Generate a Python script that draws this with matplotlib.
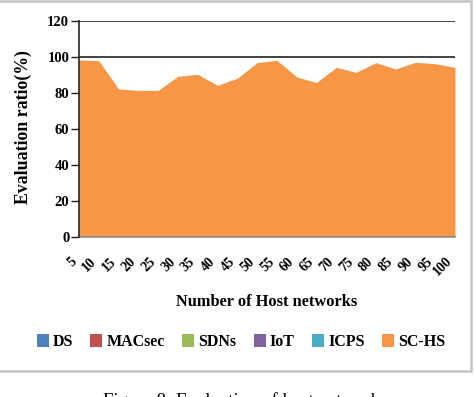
import matplotlib
matplotlib.use("Agg")
import matplotlib.pyplot as plt
from matplotlib.patches import Patch, Rectangle
import matplotlib.transforms as mtransforms

# ---- data ----
hosts = [5, 10, 15, 20, 25, 30, 35, 40, 45, 50, 55, 60, 65, 70, 75, 80, 85, 90, 95, 100]
sc_hs = [98.2, 97.8, 82.1, 81.3, 81.3, 89.1, 90.2, 84.1, 88.0, 96.7,
         98.0, 88.8, 85.6, 94.1, 91.3, 96.7, 93.2, 96.9, 96.1, 94.1]
series_names = ["DS", "MACsec", "SDNs", "IoT", "ICPS", "SC-HS"]
series_colors = ["#4F81BD", "#C0504D", "#9BBB59", "#8064A2", "#4BACC6", "#F79646"]
y_ticks = [0, 20, 40, 60, 80, 100, 120]
x_label = "Number of Host networks"
y_label = "Evaluation ratio(%)"
caption = "Figure 8: Evaluation of host networks"

W, H = 474, 397
fig = plt.figure(figsize=(W / 100, H / 100), dpi=100)
serif = "Liberation Serif"

# axes position in pixels
left, right = 79, 455
top, bottom = 20.7, 236.7
ax = fig.add_axes([left / W, 1 - bottom / H, (right - left) / W, (bottom - top) / H])

idx = list(range(len(hosts)))
ax.fill_between(idx, 0, sc_hs, color=series_colors[-1], linewidth=0, zorder=2)

ax.set_xlim(0, len(hosts) - 1)
ax.set_ylim(0, 120)
ax.set_yticks(y_ticks)
ax.set_yticklabels([str(v) for v in y_ticks], fontfamily=serif, fontweight="bold", fontsize=10.5)
ax.grid(axis="y", color="#333333", linewidth=1.3, zorder=0)
ax.set_axisbelow(True)

ax.set_xticks(idx)
labels = ax.set_xticklabels([str(h) for h in hosts], rotation=45, ha="right", va="top",
                            fontfamily=serif, fontweight="bold", fontsize=10)
offset = mtransforms.ScaledTranslation(3 / 100, 0, fig.dpi_scale_trans)
for lab in labels:
    lab.set_transform(lab.get_transform() + offset)
ax.tick_params(axis="x", length=0, pad=13)
ax.tick_params(axis="y", length=6, width=1, color="#222222", pad=1)

for s in ["top", "right"]:
    ax.spines[s].set_visible(False)
ax.spines["left"].set_color("#222222")
ax.spines["left"].set_linewidth(1.2)
ax.spines["left"].set_zorder(3)
ax.spines["bottom"].set_color("#8c8c8c")
ax.spines["bottom"].set_linewidth(1.2)

fig.text(267 / W, 1 - 302 / H, x_label, ha="center", va="center",
         fontfamily=serif, fontweight="bold", fontsize=11.8)
fig.text(23 / W, 1 - 127 / H, y_label, ha="center", va="center", rotation=90,
         fontfamily=serif, fontweight="bold", fontsize=12.8)

handles = [Patch(facecolor=c, edgecolor="none") for c in series_colors]
fig.legend(handles, series_names, loc="center", bbox_to_anchor=(241 / W, 1 - 342 / H),
           ncol=6, frameon=False, handlelength=0.75, handleheight=0.8,
           handletextpad=0.25, columnspacing=1.1,
           prop={"family": serif, "weight": "bold", "size": 11.5})

# chart frame
frame = Rectangle((-2 / W, 1 - 370.5 / H), 473 / W, 369.5 / H, transform=fig.transFigure,
                  fill=False, edgecolor="#c4c4c4", linewidth=1.8)
fig.patches.append(frame)

fig.text(245 / W, 1 - 392.5 / H, caption, ha="center", va="top",
         fontfamily=serif, fontsize=13.5)

fig.savefig("out.png", dpi=100)
